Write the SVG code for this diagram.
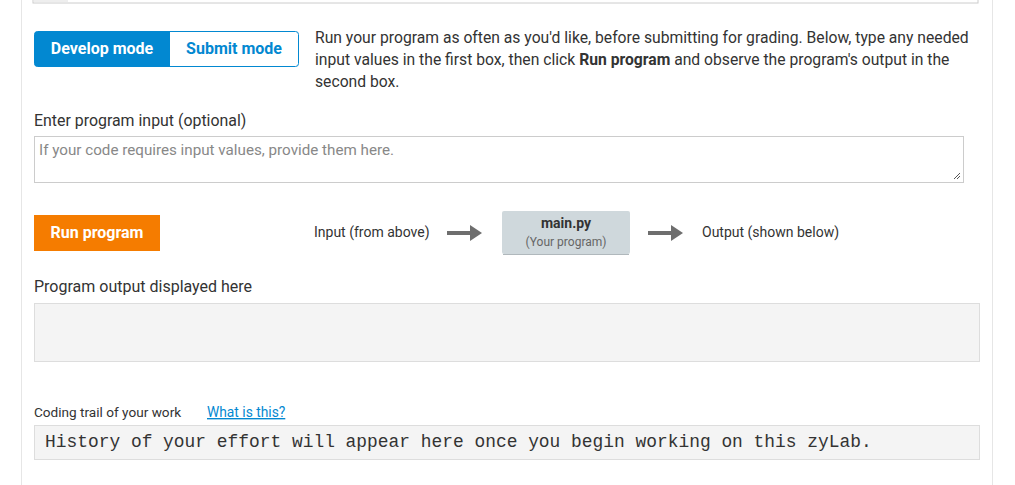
<svg xmlns="http://www.w3.org/2000/svg" width="1015" height="485" viewBox="0 0 1015 485">
<style>
text{font-family:Roboto,"Liberation Sans",sans-serif}
.t{font-size:15.7px;fill:#333}
.s{font-size:14px;fill:#333}
.arr{stroke:#6e6e6e;stroke-width:4}
</style>
<defs><marker id="ah" markerWidth="4" markerHeight="4" refX="2" refY="2" orient="auto"><path d="M0,0 L3,2 L0,4 Z" fill="#6e6e6e"/></marker></defs>
<rect width="1015" height="485" fill="#fff"/>
<line x1="21.5" y1="0" x2="21.5" y2="485" stroke="#e6e6e6"/>
<line x1="992.5" y1="0" x2="992.5" y2="485" stroke="#e6e6e6"/>
<rect x="33" y="-2" width="945" height="5" fill="#fff" stroke="#ccc"/>
<rect x="34" y="-1" width="34" height="3" fill="#eee"/>
<g id="modes">
<rect x="34.5" y="31.5" width="264" height="35" rx="3" fill="#fff" stroke="#0288d1"/>
<path d="M37.5,31.5 H170 V66.5 H37.5 A3,3 0 0 1 34.5,63.5 V34.5 A3,3 0 0 1 37.5,31.5 Z" fill="#0288d1"/>
<text x="102" y="54" text-anchor="middle" font-size="16" font-weight="bold" fill="#fff">Develop mode</text>
<text x="234" y="54" text-anchor="middle" font-size="16" font-weight="bold" fill="#0288d1">Submit mode</text>
</g>
<g id="desc" class="t">
<text x="315" y="43">Run your program as often as you'd like, before submitting for grading. Below, type any needed</text>
<text x="315" y="65">input values in the first box, then click <tspan font-weight="bold">Run program</tspan> and observe the program's output in the</text>
<text x="315" y="87">second box.</text>
</g>
<text x="34" y="126" font-size="15.9" fill="#333">Enter program input (optional)</text>
<g id="input">
<rect x="34.5" y="136.5" width="929" height="46" fill="#fff" stroke="#ccc"/>
<text x="39" y="155" font-size="15.2" fill="#888">If your code requires input values, provide them here.</text>
<path d="M954,179 L960,173 M957,179 L960,176" stroke="#555" stroke-width="1"/>
</g>
<g id="run">
<rect x="34" y="215" width="126" height="36" fill="#f57c00"/>
<text x="97" y="238" text-anchor="middle" font-size="16" font-weight="bold" fill="#fff">Run program</text>
</g>
<g id="inlabel"><text x="314" y="237" class="s">Input (from above)</text></g>
<g id="main">
<rect x="502" y="211" width="128" height="43" rx="2" fill="#cfd8dc"/>
<line x1="503" y1="254.5" x2="629" y2="254.5" stroke="#b0b8bc"/>
<text x="566" y="228" text-anchor="middle" font-size="14" font-weight="bold" fill="#333">main.py</text>
<text x="566" y="246" text-anchor="middle" font-size="12" fill="#666">(Your program)</text>
</g>
<g id="outlabel"><text x="702" y="237" class="s">Output (shown below)</text></g>
<g id="connectors">
<line x1="447" y1="233" x2="478" y2="233" class="arr" marker-end="url(#ah)"/>
<line x1="648" y1="233" x2="679" y2="233" class="arr" marker-end="url(#ah)"/>
</g>
<text x="34" y="292" font-size="16" fill="#333">Program output displayed here</text>
<g id="output"><rect x="34.5" y="303.5" width="945" height="58" fill="#f4f4f4" stroke="#ddd"/></g>
<text x="34" y="417" font-size="13.6" fill="#333">Coding trail of your work</text>
<text x="207" y="417" font-size="13.8" fill="#0288d1" text-decoration="underline">What is this?</text>
<g id="trail">
<rect x="34.5" y="425.5" width="945" height="34" fill="#f4f4f4" stroke="#ddd"/>
<text x="45" y="447" font-size="17.9" fill="#333" style="font-family:'Liberation Mono',monospace">History of your effort will appear here once you begin working on this zyLab.</text>
</g>
</svg>
